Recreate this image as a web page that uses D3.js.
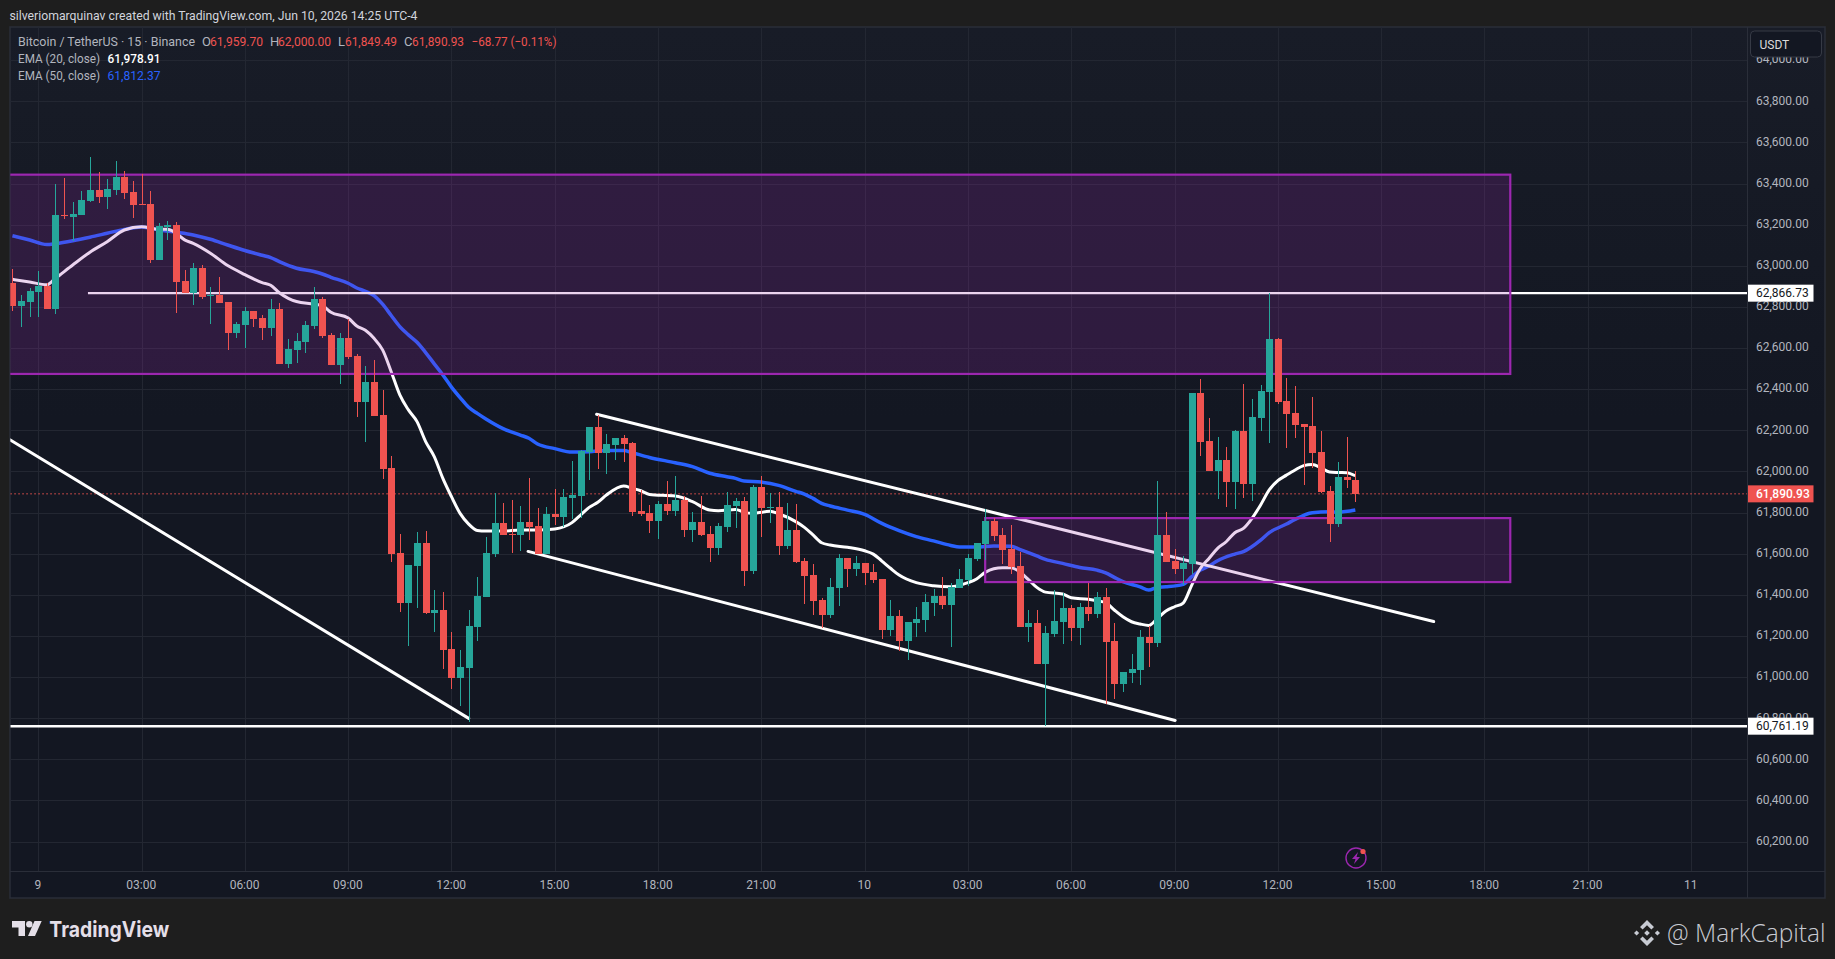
<!DOCTYPE html>
<html>
<head>
<meta charset="utf-8">
<title>BTCUSDT 15</title>
<script src="https://cdn.jsdelivr.net/npm/d3@7/dist/d3.min.js"></script>
<style>
    html, body { margin: 0; padding: 0; background: #1e1e1e; overflow: hidden; }
    svg { display: block; font-family: Roboto, sans-serif; }
    .grid line { stroke: #232732; stroke-width: 1; shape-rendering: crispEdges; }
    .axis text { fill: #b2b5be; font-family: Roboto, sans-serif; font-size: 12px; }
    .axis .domain, .axis .tick line { display: none; }
</style>
</head>
<body>
<svg id="chart" width="1835" height="959"></svg>
<script>
// candles, 15 minute bars, first bar sits 3 bars before the "9" tick
const firstBar = -3;

const opens = [
    62915,62805,62824,62872,62903,62790,63247,63237,63247,63315,
    63368,63334,63368,63432,63359,63300,63300,63028,63188,63198,
    62926,62867,62989,62853,62858,62824,62673,62712,62780,62746,
    62697,62790,62522,62590,62629,62707,62838,62663,62517,62649,
    62561,62338,62435,62275,62017,61603,61360,61540,61652,61311,
    61326,61136,60995,61044,61243,61389,61598,61749,61696,61691,
    61754,61735,61598,61793,61779,61871,61880,62094,62216,62090,
    62128,62163,62138,61807,61798,61759,61841,61807,61861,61715,
    61754,61696,61627,61730,61832,61856,61516,61924,61822,61827,
    61637,61715,61564,61496,61374,61301,61433,61578,61525,61554,
    61510,61476,61228,61296,61175,61262,61277,61360,61394,61350,
    61433,61471,61574,61647,61758,61690,61622,61540,61243,61262,
    61063,61209,61267,61335,61238,61340,61306,61389,61175,60966,
    61019,61034,61194,61165,61690,61564,61526,61550,62382,62148,
    62002,62056,61949,62197,61939,62260,62387,62644,62343,62284,
    62231,62221,62095,61905,61745,61973,61959.70
];
const highs = [
    62985,62858,62890,62974,62915,63398,63427,63310,63364,63529,
    63456,63422,63509,63461,63412,63446,63364,63206,63218,63213,
    62979,63013,63004,62897,62945,62824,62726,62799,62780,62760,
    62838,62819,62644,62673,62731,62897,62848,62673,62673,62741,
    62571,62513,62542,62396,62075,61696,61545,61705,61710,61423,
    61413,61219,61131,61326,61486,61681,61895,61846,61861,61832,
    61968,61822,61827,61915,61915,62051,62104,62216,62275,62182,
    62163,62177,62143,61910,61837,61856,61953,61978,61880,61803,
    61880,61735,61749,61900,61871,61876,61934,61978,61895,61900,
    61846,61841,61578,61549,61384,61481,61598,61578,61588,61554,
    61549,61476,61374,61326,61267,61340,61403,61428,61486,61457,
    61525,61598,61651,61817,61773,61724,61739,61608,61326,61326,
    61248,61423,61408,61350,61360,61457,61413,61433,61262,61024,
    61111,61228,61248,61953,61802,61622,61589,62382,62450,62260,
    62168,62119,62202,62426,62353,62421,62866,62649,62455,62416,
    62231,62362,62197,61929,62046,62168,62000
];
const lows = [
    62780,62704,62752,62752,62790,62767,63226,63122,63247,63310,
    63305,63276,63344,63325,63232,63295,63013,63028,63125,62770,
    62867,62809,62838,62717,62819,62590,62649,62600,62702,62639,
    62658,62522,62503,62527,62576,62692,62649,62517,62425,62546,
    62265,62143,62270,61963,61559,61316,61151,61336,61306,61219,
    61039,60941,60859,60781,61175,61389,61584,61691,61603,61613,
    61667,61598,61598,61739,61730,61769,61773,61958,62012,61987,
    62055,62046,61783,61783,61700,61671,61788,61783,61681,61656,
    61686,61559,61593,61705,61725,61443,61501,61681,61749,61593,
    61623,61554,61355,61301,61238,61287,61345,61437,61491,61447,
    61457,61184,61199,61126,61082,61194,61218,61296,61330,61146,
    61433,61442,61564,61569,61661,61549,61501,61243,61170,61063,
    60761,61194,61160,61175,61155,61272,61287,60868,60893,60927,
    60970,60961,61048,61146,61559,61501,61448,61501,62075,62002,
    61866,61827,61818,61871,61856,62197,62139,62328,62114,62163,
    61934,62017,61895,61657,61730,61920,61849.49
];
const closes = [
    62805,62829,62877,62903,62790,63247,63244,63252,63320,63368,
    63334,63373,63432,63354,63295,63295,63028,63193,63198,62921,
    62867,62989,62848,62858,62819,62673,62717,62780,62741,62697,
    62790,62522,62595,62634,62712,62838,62658,62517,62649,62556,
    62338,62435,62270,62012,61598,61360,61545,61652,61311,61326,
    61131,60995,61049,61248,61394,61603,61749,61691,61691,61754,
    61730,61598,61793,61779,61876,61885,62099,62216,62090,62133,
    62163,62133,61803,61793,61759,61841,61807,61861,61715,61754,
    61691,61627,61735,61837,61856,61516,61924,61822,61827,61637,
    61715,61559,61491,61369,61301,61437,61578,61525,61554,61505,
    61471,61228,61296,61175,61267,61282,61364,61394,61350,61437,
    61476,61578,61651,61758,61685,61617,61535,61243,61262,61063,
    61214,61272,61335,61238,61340,61306,61389,61170,60966,61024,
    61039,61194,61165,61690,61559,61525,61555,62382,62143,62002,
    62056,61949,62197,61939,62265,62391,62644,62338,62280,62226,
    62216,62090,61900,61745,61973,61960,61890.93
];

// ema values at these bars
const ema20Bars = [-3,-1,1,2,4,6,8,10,12,14,15,16,17,18,20,22,24,26,27,28,30,32,33,34,36,37,38,39,40,41,42,43,44,45,
    46,47,48,49,50,51,52,54,56,58,60,62,63,64,65,66,68,69,70,71,74,76,78,79,81,82,83,85,86,88,
    89,90,91,92,94,96,97,98,99,100,102,104,106,108,109,110,111,112,113,114,115,116,117,119,120,122,123,124,125,126,127,128,129,130,131,132,133,134,
    135,136,137,138,139,140,141,142,143,144,145,146,147,148,149,150,151,152,153];
const ema20Values = [62934,62921,62908,62939,63004,63066,63117,63174,63190,63177,63177,63158,63126,63109,63061,63001,62957,62918,62905,62869,62826,62814,62806,62774,62746,62707,62686,62647,62591,62485,62372,62299,62242,62145,
    62072,61966,61877,61796,61744,61713,61710,61710,61715,61715,61720,61751,61788,61825,61850,61885,61929,61918,61906,61888,61880,61853,61812,61809,61815,61801,61796,61806,61794,61756,
    61728,61691,61653,61642,61631,61614,61598,61564,61529,61496,61459,61444,61439,61459,61477,61509,61527,61532,61532,61512,61475,61436,61413,61404,61386,61378,61371,61362,61326,61293,61269,61258,61251,61285,61321,61342,61360,61447,
    61529,61577,61626,61658,61702,61723,61772,61837,61910,61955,61982,62007,62028,62034,62018,61997,61995,61994,61978.91];

const ema50Bars = [-3,-1,1,2,4,6,8,10,12,14,16,18,20,22,24,26,27,28,30,32,33,34,36,37,38,39,40,41,42,43,44,45,46,47,48,
    49,50,51,52,54,56,57,58,60,62,64,66,68,69,71,74,76,78,80,81,82,84,86,88,
    89,90,91,92,94,96,98,100,102,104,106,107,109,111,113,114,116,117,119,121,123,124,125,126,128,129,130,131,133,134,135,136,
    137,139,140,142,143,145,146,148,150,151,153];
const ema50Values = [63146,63125,63103,63108,63122,63139,63158,63177,63189,63174,63163,63150,63129,63101,63074,63051,63040,63020,62988,62972,62960,62944,62915,62892,62876,62855,62813,62758,62704,62664,62628,62578,62523,62469,62410,
    62359,62312,62282,62255,62208,62177,62161,62133,62111,62094,62096,62102,62102,62091,62068,62042,62023,61991,61974,61966,61953,61948,61932,61903,
    61890,61869,61845,61832,61812,61791,61747,61712,61683,61662,61640,61632,61632,61637,61636,61621,61589,61572,61553,61533,61520,61507,61485,61464,61439,61423,61436,61439,61451,61488,61520,61540,
    61566,61598,61610,61666,61702,61744,61767,61799,61804,61802,61812.37];

// drawings, as [startBar, startPrice, endBar, endPrice]
const trendLines = [
    [-3.25, 62153, 50, 60799],
    [64.86, 62278, 162.1, 61270],
    [56.9, 61611, 132.07, 60789]
];
const horizontalStarts = [5.77, -3.25];
const horizontalPrices = [62866.73, 60761.19];
// zones, as [leftBar, rightBar, topPrice, bottomPrice]
const zones = [
    [-5, 171, 63443, 62474],
    [110, 171, 61773, 61462]
];

const lastPrice = 61890.93;
const priceTicks = d3.range(60200, 64001, 200);
const timeTickBars = d3.range(0, 193, 12);
const timeTickLabels = ["9","03:00","06:00","09:00","12:00","15:00","18:00","21:00","10","03:00","06:00","09:00","12:00","15:00","18:00","21:00","11"];

// layout
const plotLeft = 10.3, plotRight = 1747, plotTop = 27, plotBottom = 871;
const panelRight = 1825, panelBottom = 898;
const upColor = "#26a69a", downColor = "#ef5350", zoneColor = "#9c27b0";
const blue = "#2962ff";
const grey = "#b2b5be";

const x = d3.scaleLinear().domain([-3.25, 198.5]).range([plotLeft, plotRight]);
const y = d3.scaleLinear().domain([60057, 64161]).range([plotBottom, plotTop]);

const svg = d3.select("#chart");
const defs = svg.append("defs");

const bgGrad = defs.append("linearGradient").attr("id", "panel-bg")
    .attr("x1", 0).attr("x2", 0).attr("y1", 0).attr("y2", 1);
bgGrad.append("stop").attr("offset", "0%").attr("stop-color", "#181c27");
bgGrad.append("stop").attr("offset", "45%").attr("stop-color", "#131722");
bgGrad.append("stop").attr("offset", "100%").attr("stop-color", "#131722");

defs.append("clipPath").attr("id", "plot-clip").append("rect")
    .attr("x", plotLeft).attr("y", plotTop)
    .attr("width", plotRight - plotLeft).attr("height", plotBottom - plotTop);

// panel
svg.append("rect")
    .attr("x", 10).attr("y", 27)
    .attr("width", panelRight - 10).attr("height", panelBottom - 27)
    .attr("fill", "url(#panel-bg)")
    .attr("stroke", "#2a2e39").attr("stroke-width", 1.5);

// grid
const grid = svg.append("g").attr("class", "grid").attr("clip-path", "url(#plot-clip)");
grid.selectAll(".h").data(priceTicks).enter().append("line")
    .attr("x1", plotLeft).attr("x2", plotRight)
    .attr("y1", d => Math.round(y(d)) + 0.5).attr("y2", d => Math.round(y(d)) + 0.5);
grid.selectAll(".v").data(timeTickBars).enter().append("line")
    .attr("x1", d => Math.round(x(d)) + 0.5).attr("x2", d => Math.round(x(d)) + 0.5)
    .attr("y1", plotTop).attr("y2", plotBottom);

const plot = svg.append("g").attr("clip-path", "url(#plot-clip)");

// last price line
plot.append("line")
    .attr("x1", plotLeft).attr("x2", plotRight)
    .attr("y1", y(lastPrice)).attr("y2", y(lastPrice))
    .attr("stroke", downColor).attr("stroke-width", 1)
    .attr("stroke-dasharray", "1.5 2.5");

// ema lines
const emaLine = d3.line().x(d => x(d[0])).y(d => y(d[1])).curve(d3.curveMonotoneX);
plot.append("path")
    .attr("d", emaLine(d3.zip(ema50Bars, ema50Values)))
    .attr("fill", "none").attr("stroke", blue).attr("stroke-width", 3.5);
plot.append("path")
    .attr("d", emaLine(d3.zip(ema20Bars, ema20Values)))
    .attr("fill", "none").attr("stroke", "#ffffff").attr("stroke-width", 3);

// trend lines and horizontals
plot.selectAll(".trend").data(trendLines).enter().append("line")
    .attr("x1", d => x(d[0])).attr("y1", d => y(d[1]))
    .attr("x2", d => x(d[2])).attr("y2", d => y(d[3]))
    .attr("stroke", "#ffffff").attr("stroke-width", 3).attr("stroke-linecap", "round");
plot.selectAll(".hline").data(horizontalPrices).enter().append("line")
    .attr("x1", (d, i) => x(horizontalStarts[i])).attr("x2", plotRight)
    .attr("y1", d => y(d)).attr("y2", d => y(d))
    .attr("stroke", "#ffffff").attr("stroke-width", 2.4);

// zones go over the lines, they tint them
plot.selectAll(".zone").data(zones).enter().append("rect")
    .attr("x", d => x(d[0])).attr("y", d => y(d[2]))
    .attr("width", d => x(d[1]) - x(d[0])).attr("height", d => y(d[3]) - y(d[2]))
    .attr("fill", zoneColor).attr("fill-opacity", 0.2)
    .attr("stroke", zoneColor).attr("stroke-width", 2.2);

// candles
const bars = opens.map((o, i) => ({ bar: firstBar + i, o: o, h: highs[i], l: lows[i], c: closes[i] }));
const candles = plot.selectAll(".candle").data(bars).enter().append("g").attr("class", "candle");
candles.append("line")
    .attr("x1", d => Math.round(x(d.bar)) + 0.5).attr("x2", d => Math.round(x(d.bar)) + 0.5)
    .attr("y1", d => y(d.h)).attr("y2", d => y(d.l))
    .attr("stroke", d => d.c >= d.o ? upColor : downColor)
    .attr("stroke-width", 1).attr("shape-rendering", "crispEdges");
candles.append("rect")
    .attr("x", d => Math.round(x(d.bar)) - 3)
    .attr("width", 7)
    .attr("y", d => y(Math.max(d.o, d.c)))
    .attr("height", d => Math.max(1, Math.abs(y(d.o) - y(d.c))))
    .attr("fill", d => d.c >= d.o ? upColor : downColor)
    .attr("shape-rendering", "crispEdges");

// axes borders
svg.append("line").attr("x1", plotRight + 0.5).attr("x2", plotRight + 0.5)
    .attr("y1", plotTop).attr("y2", panelBottom)
    .attr("stroke", "#2a2e39").attr("shape-rendering", "crispEdges");
svg.append("line").attr("x1", plotLeft).attr("x2", panelRight)
    .attr("y1", plotBottom + 0.5).attr("y2", plotBottom + 0.5)
    .attr("stroke", "#2a2e39").attr("shape-rendering", "crispEdges");

// axes
const priceAxis = svg.append("g").attr("class", "axis")
    .attr("transform", `translate(${plotRight},-1)`)
    .call(d3.axisRight(y).tickValues(priceTicks).tickSize(0).tickPadding(9).tickFormat(d3.format(",.2f")));
svg.append("g").attr("class", "axis")
    .attr("transform", `translate(-0.8,${plotBottom + 1})`)
    .call(d3.axisBottom(x).tickValues(timeTickBars).tickSize(0).tickPadding(8)
        .tickFormat((d, i) => timeTickLabels[i]));

// currency button
svg.append("rect").attr("x", 1750.5).attr("y", 31).attr("width", 71).attr("height", 26).attr("rx", 4)
    .attr("fill", "#131722").attr("stroke", "#363a45");
svg.append("text").attr("x", 1759.5).attr("y", 48.5).attr("fill", "#dbdbdb")
    .style("font-size", "12px").text("USDT");

// price tags
function priceTag(value, bg, fg, weight) {
    const cy = y(value);
    svg.append("rect").attr("x", plotRight + 1).attr("y", cy - 8.5)
        .attr("width", 65.5).attr("height", 17).attr("fill", bg);
    svg.append("text").attr("x", 1756).attr("y", cy + 4).attr("fill", fg)
        .style("font-size", "12px").style("font-weight", weight)
        .text(d3.format(",.2f")(value));
}
priceTag(horizontalPrices[0], "#ffffff", "#131722", 400);
priceTag(horizontalPrices[1], "#ffffff", "#131722", 400);
priceTag(lastPrice, downColor, "#ffffff", 500);

// header and legend
function label(txt, px, py, fill, width, size, weight) {
    const t = svg.append("text").attr("x", px).attr("y", py).attr("fill", fill)
        .style("font-size", (size || 13) + "px").text(txt);
    if (weight) t.style("font-weight", weight);
    if (width) t.attr("textLength", width).attr("lengthAdjust", "spacingAndGlyphs");
    return t;
}
label("silveriomarquinav created with TradingView.com, Jun 10, 2026 14:25 UTC-4", 9.5, 20, "#d1d4dc", 408, 13);
label("Bitcoin / TetherUS · 15 · Binance", 18, 45.5, grey, 177);
label("O", 202, 45.5, grey);
label("61,959.70", 210, 45.5, downColor, 53);
label("H", 270, 45.5, grey);
label("62,000.00", 278, 45.5, downColor, 53);
label("L", 338, 45.5, grey);
label("61,849.49", 345, 45.5, downColor, 52);
label("C", 404, 45.5, grey);
label("61,890.93", 412, 45.5, downColor, 52);
label("−68.77 (−0.11%)", 471.5, 45.5, downColor, 85);
label("EMA (20, close)", 18, 63, grey, 82);
label("61,978.91", 107.5, 63, "#ffffff", 53, 13, 500);
label("EMA (50, close)", 18, 80, grey, 82);
label("61,812.37", 107.5, 80, blue, 53);

// alert icon near the time axis
const alertIcon = svg.append("g").attr("transform", "translate(1356,858)");
alertIcon.append("circle").attr("r", 10).attr("fill", "none").attr("stroke", zoneColor).attr("stroke-width", 1.4);
alertIcon.append("path").attr("d", "M2,-6 L-4,1 L-0.5,1 L-2,6 L4,-1 L0.5,-1 Z").attr("fill", zoneColor);
alertIcon.append("circle").attr("cx", 7).attr("cy", -6.5).attr("r", 2.6).attr("fill", downColor);

// tradingview logo
const logo = svg.append("g").attr("fill", "#e4dfe8");
logo.append("path").attr("d", "M12,921 H25 V936 H18.5 V927.5 H12 Z");
logo.append("circle").attr("cx", 29.3).attr("cy", 924.3).attr("r", 3.2);
logo.append("path").attr("d", "M34.5,921 H41.7 L35,936 H28 Z");
logo.append("text").attr("x", 49.3).attr("y", 937)
    .attr("textLength", 120).attr("lengthAdjust", "spacingAndGlyphs")
    .style("font-family", "Inter, sans-serif").style("font-size", "22px").style("font-weight", 700)
    .text("TradingView");

// watermark
const mark = svg.append("g").attr("transform", "translate(1647,933)").attr("fill", "#c8cbd3");
mark.append("path").attr("d", "M0,-13 L7,-6 L4.4,-3.4 L0,-7.8 L-4.4,-3.4 L-7,-6 Z");
mark.append("path").attr("d", "M0,13 L7,6 L4.4,3.4 L0,7.8 L-4.4,3.4 L-7,6 Z");
mark.append("path").attr("d", "M-13,0 L-10.4,-2.6 L-7.8,0 L-10.4,2.6 Z");
mark.append("path").attr("d", "M13,0 L10.4,-2.6 L7.8,0 L10.4,2.6 Z");
mark.append("path").attr("d", "M0,-2.8 L2.8,0 L0,2.8 L-2.8,0 Z");
svg.append("text").attr("x", 1667).attr("y", 942).attr("fill", "#c8cbd3")
    .attr("textLength", 158.5).attr("lengthAdjust", "spacingAndGlyphs")
    .style("font-family", "'Open Sans', sans-serif").style("font-size", "25px").style("font-weight", 300)
    .text("@ MarkCapital");
</script>
</body>
</html>
